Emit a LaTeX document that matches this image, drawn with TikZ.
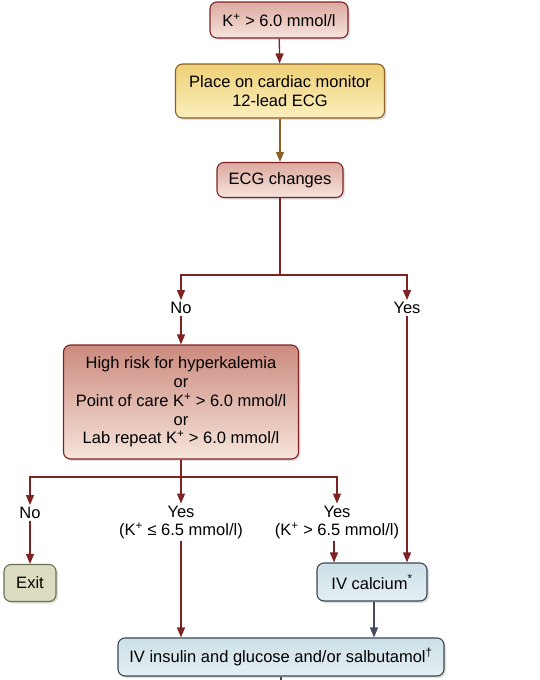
\documentclass[tikz,border=0pt]{standalone}
\usepackage{fontspec}
\setmainfont{Liberation Sans}
\usepackage{tikz}
\usetikzlibrary{positioning}
\usetikzlibrary{arrows.meta}
\usetikzlibrary{shadows}
\definecolor{redline}{RGB}{125,35,35}
\definecolor{brownline}{RGB}{140,95,35}
\definecolor{slateline}{RGB}{65,75,90}
\definecolor{pinktop}{RGB}{220,170,160}
\definecolor{pinkbot}{RGB}{246,228,220}
\definecolor{risktop}{RGB}{204,138,126}
\definecolor{riskbot}{RGB}{246,228,218}
\definecolor{yeltop}{RGB}{238,208,118}
\definecolor{yelbot}{RGB}{251,239,190}
\definecolor{exitfill}{RGB}{220,220,192}
\definecolor{exitline}{RGB}{110,110,85}
\definecolor{bluetop}{RGB}{204,224,231}
\definecolor{bluebot}{RGB}{228,239,243}
\definecolor{blueline}{RGB}{60,70,82}
\newcommand{\Kp}{K\textsuperscript{+}}
\tikzset{
  box/.style={rounded corners=7pt, align=center, line width=1.1pt, inner sep=0pt,
    drop shadow={shadow xshift=2pt, shadow yshift=-2pt, opacity=0.25}},
  pinkbox/.style={box, draw=redline, top color=pinktop, bottom color=pinkbot},
  riskbox/.style={box, draw=redline, top color=risktop, bottom color=riskbot},
  yelbox/.style={box, draw=brownline, top color=yeltop, bottom color=yelbot},
  exitbox/.style={box, draw=exitline, fill=exitfill},
  bluebox/.style={box, draw=blueline, top color=bluetop, bottom color=bluebot},
  lbl/.style={align=center, inner sep=2pt},
  arr/.style={-{Triangle[length=10pt,width=8pt]}, line width=1.3pt, draw=redline, redline},
  seg/.style={line width=1.3pt, draw=redline}
}
\begin{document}
\begin{tikzpicture}[x=1pt, y=-1pt, font=\fontsize{16.5}{18.8}\selectfont]
    \useasboundingbox (0,0) rectangle (540,680);
    % upper part
    \node[pinkbox, minimum width=138pt, minimum height=36pt] (kin) at (279,20) {\Kp{} > 6.0 mmol/l};
    \node[yelbox, minimum width=209pt, minimum height=54pt] (monitor) at (280,91) {Place on cardiac monitor\\12-lead ECG};
    \node[pinkbox, minimum width=126pt, minimum height=35pt] (ecg) at (280,180) {ECG changes};
    \coordinate (ecgsplit) at (280,275);
    \node[lbl] (ecgno) at (181,308) {No};
    \node[lbl] (ecgyes) at (407,308) {Yes};
    \draw[arr] (kin) -- (monitor);
    \draw[arr, draw=brownline, brownline] (monitor) -- (ecg);
    \draw[seg] (ecg) -- (ecgsplit);
    \draw[arr] (ecgsplit) -| (ecgno);
    \draw[arr] (ecgsplit) -| (ecgyes);
    % risk check
    \node[riskbox, minimum width=235pt, minimum height=114pt] (risk) at (181,402)
      {High risk for hyperkalemia\\or\\Point of care \Kp{} > 6.0 mmol/l\\or\\Lab repeat \Kp{} > 6.0 mmol/l};
    \draw[arr] (ecgno) -- (risk);
    \coordinate (risksplit) at (181,477);
    \node[lbl] (riskno) at (30,513) {No};
    \node[lbl] (risklow) at (181,522.5) {Yes\\(\Kp{} ≤ 6.5 mmol/l)};
    \node[lbl] (riskhigh) at (337,522.5) {Yes\\(\Kp{} > 6.5 mmol/l)};
    \draw[seg] (risk) -- (risksplit);
    \draw[arr] (risksplit) -| (riskno);
    \draw[arr] (risksplit) -- (risklow);
    \draw[arr] (risksplit) -| (riskhigh);
    % treatment
    \node[exitbox, minimum width=52pt, minimum height=37pt] (exit) at (30,583) {Exit};
    \node[bluebox, minimum width=110pt, minimum height=38pt] (calcium) at (372,582) {IV calcium\textsuperscript{*}};
    \node[bluebox, minimum width=326pt, minimum height=38pt] (insulin) at (281,657) {IV insulin and glucose and/or salbutamol\textsuperscript{†}};
    \coordinate (insout) at (281,682);
    \draw[arr] (riskno) -- (exit);
    \draw[arr] (risklow) -- (risklow |- insulin.north);
    \draw[arr] ([xshift=-3pt]riskhigh.south) -- ([xshift=-3pt]riskhigh.south |- calcium.north);
    \draw[arr] (ecgyes) -- (ecgyes |- calcium.north);
    \draw[arr, draw=slateline, slateline] ([xshift=2pt]calcium.south) -- ([xshift=2pt]calcium.south |- insulin.north);
    \draw[line width=1.3pt, draw=blueline] (insulin) -- (insout);
\end{tikzpicture}
\end{document}
